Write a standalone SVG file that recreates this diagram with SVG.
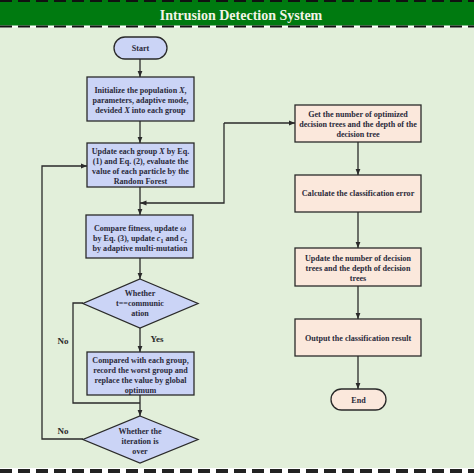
<svg xmlns="http://www.w3.org/2000/svg" width="474" height="474" viewBox="0 0 474 474">
<defs>
<style>
.b{fill:#cbd4f6;stroke:#2a2a2a;stroke-width:1.3}
.p{fill:#fbe8dc;stroke:#2a2a2a;stroke-width:1.3}
.t{font-family:"Liberation Serif","Times New Roman",serif;font-weight:bold;font-size:8.1px;fill:#2a2a3a;text-anchor:middle}
.l{font-family:"Liberation Serif","Times New Roman",serif;font-weight:bold;font-size:9px;fill:#2a2a2a;text-anchor:middle}
.c{fill:none;stroke:#2a2a2a;stroke-width:1.3}
</style>
<marker id="a" viewBox="0 0 10 10" refX="10" refY="5" markerWidth="5" markerHeight="5" orient="auto">
<path d="M0,1 L10,5 L0,9 z" fill="#2a2a2a"/>
</marker>
</defs>
<rect width="474" height="474" fill="#e2efda"/>
<rect x="0" y="0" width="474" height="27" fill="#007a10"/>
<line x1="0" y1="1" x2="474" y2="1" stroke="#111" stroke-width="2" stroke-dasharray="12 6"/>
<line x1="0" y1="26.5" x2="474" y2="26.5" stroke="#ffffff" stroke-width="2"/>
<line x1="0" y1="26.5" x2="474" y2="26.5" stroke="#111" stroke-width="2" stroke-dasharray="12 6"/>
<text x="241" y="19.5" font-family="Liberation Serif,'Times New Roman',serif" font-weight="bold" font-size="14" fill="#f2f4e6" text-anchor="middle">Intrusion Detection System</text>
<rect x="0" y="468" width="474" height="6" fill="#ffffff"/>
<line x1="0" y1="471" x2="474" y2="471" stroke="#222" stroke-width="4" stroke-dasharray="12 6"/>

<g id="connectors">
<line class="c" x1="140" y1="59" x2="140" y2="77" marker-end="url(#a)"/>
<line class="c" x1="140" y1="121" x2="140" y2="143" marker-end="url(#a)"/>
<line class="c" x1="140" y1="187" x2="140" y2="215" marker-end="url(#a)"/>
<polyline class="c" points="224,123 224,203 140,203" marker-end="url(#a)"/>
<line class="c" x1="224" y1="123" x2="295" y2="123" marker-end="url(#a)"/>
<line class="c" x1="140" y1="258" x2="140" y2="279" marker-end="url(#a)"/>
<line class="c" x1="140" y1="328" x2="140" y2="352" marker-end="url(#a)"/>
<polyline class="c" points="83,303 73,303 73,403 140,403"/>
<line class="c" x1="140" y1="395" x2="140" y2="416" marker-end="url(#a)"/>
<polyline class="c" points="83,439 42,439 42,166 87,166" marker-end="url(#a)"/>
<line class="c" x1="358" y1="142" x2="358" y2="175" marker-end="url(#a)"/>
<line class="c" x1="358" y1="212" x2="358" y2="248" marker-end="url(#a)"/>
<line class="c" x1="358" y1="286" x2="358" y2="319" marker-end="url(#a)"/>
<line class="c" x1="358" y1="356" x2="358" y2="389" marker-end="url(#a)"/>
<text class="l" x="63" y="344">No</text>
<text class="l" x="157" y="342">Yes</text>
<text class="l" x="63" y="434">No</text>
</g>

<g id="start">
<rect class="b" x="114" y="37" width="53" height="22" rx="11"/>
<text class="t" x="140.5" y="51">Start</text>
</g>
<g id="init">
<rect class="b" x="87" y="77" width="107" height="44"/>
<text class="t" x="140.5" y="93">Initialize the population <tspan font-style="italic">X</tspan>,</text>
<text class="t" x="140.5" y="103">parameters, adaptive mode,</text>
<text class="t" x="140.5" y="113">devided <tspan font-style="italic">X</tspan> into each group</text>
</g>
<g id="update">
<rect class="b" x="87" y="143" width="107" height="44"/>
<text class="t" x="140.5" y="154">Update each group <tspan font-style="italic">X</tspan> by Eq.</text>
<text class="t" x="140.5" y="164">(1) and Eq. (2), evaluate the</text>
<text class="t" x="140.5" y="174">value of each particle by the</text>
<text class="t" x="140.5" y="184">Random Forest</text>
</g>
<g id="compare">
<rect class="b" x="86" y="215" width="107" height="43"/>
<text class="t" x="140" y="231">Compare fitness, update <tspan font-style="italic">ω</tspan></text>
<text class="t" x="140" y="241">by Eq. (3), update <tspan font-style="italic">c</tspan><tspan font-size="6" dy="2">1</tspan><tspan dy="-2"> and </tspan><tspan font-style="italic">c</tspan><tspan font-size="6" dy="2">2</tspan></text>
<text class="t" x="140" y="251">by adaptive multi-mutation</text>
</g>
<g id="decision1">
<polygon class="b" points="140,279 198,303.5 140,328 83,303.5"/>
<text class="t" x="140" y="296">Whether</text>
<text class="t" x="140" y="306">t==communic</text>
<text class="t" x="140" y="316">ation</text>
</g>
<g id="global">
<rect class="b" x="87" y="352" width="107" height="43"/>
<text class="t" x="140.5" y="363">Compared with each group,</text>
<text class="t" x="140.5" y="373">record the worst group and</text>
<text class="t" x="140.5" y="383">replace the value by global</text>
<text class="t" x="140.5" y="393">optimum</text>
</g>
<g id="decision2">
<polygon class="b" points="140,416 198,439.5 140,463 83,439.5"/>
<text class="t" x="140" y="434">Whether the</text>
<text class="t" x="140" y="444">iteration is</text>
<text class="t" x="140" y="454">over</text>
</g>
<g id="getnum">
<rect class="p" x="295" y="105" width="126" height="37"/>
<text class="t" x="358" y="117">Get the number of optimized</text>
<text class="t" x="358" y="127">decision trees and the depth of the</text>
<text class="t" x="358" y="137">decision tree</text>
</g>
<g id="calc">
<rect class="p" x="295" y="175" width="126" height="37"/>
<text class="t" x="358" y="196">Calculate the classification error</text>
</g>
<g id="updtrees">
<rect class="p" x="295" y="248" width="126" height="38"/>
<text class="t" x="358" y="261">Update the number of decision</text>
<text class="t" x="358" y="271">trees and the depth of decision</text>
<text class="t" x="358" y="281">trees</text>
</g>
<g id="output">
<rect class="p" x="295" y="319" width="126" height="37"/>
<text class="t" x="358" y="341">Output the classification result</text>
</g>
<g id="end">
<rect class="p" x="331" y="389" width="55" height="21" rx="10.5"/>
<text class="t" x="358.5" y="403">End</text>
</g>
</svg>
